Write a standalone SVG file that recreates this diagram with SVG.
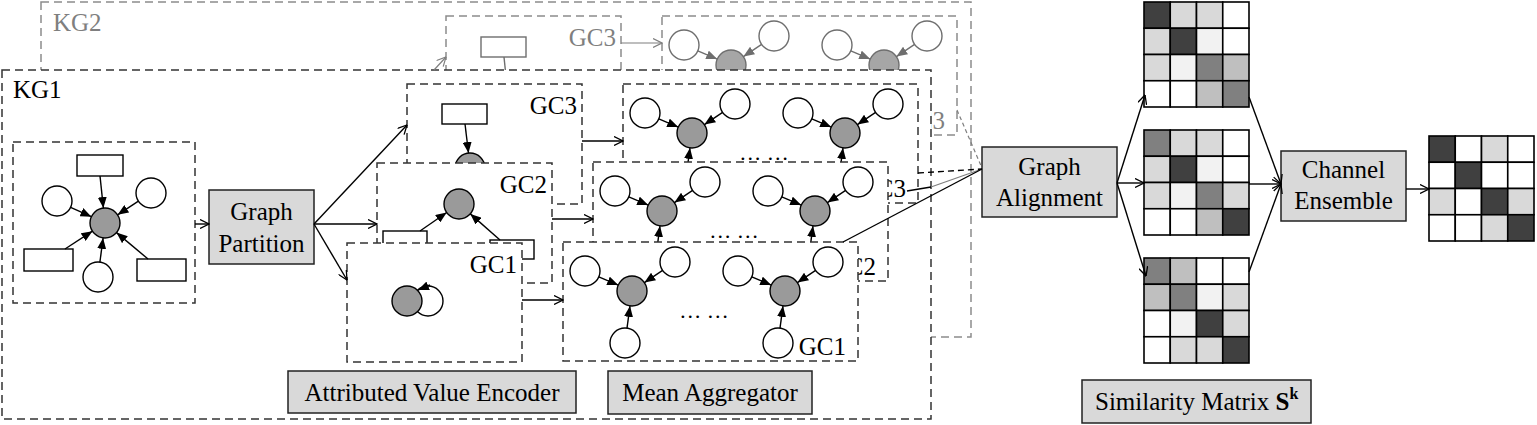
<svg xmlns="http://www.w3.org/2000/svg" xmlns:xlink="http://www.w3.org/1999/xlink" width="1537" height="425" viewBox="0 0 1537 425">
<style>
text{font-family:"Liberation Serif","Times New Roman",serif;font-size:25px;fill:#000}
.g text,text.g{fill:#7f7f7f}
.dash{fill:#fff;stroke:#333;stroke-width:1.5;stroke-dasharray:8 5}
.dashG{fill:#fff;stroke:#8c8c8c;stroke-width:1.5;stroke-dasharray:8 5}
.wc{fill:#fff;stroke:#000;stroke-width:1.4}
.gc{fill:#9a9a9a;stroke:#000;stroke-width:1.4}
.wcG{fill:#fff;stroke:#6e6e6e;stroke-width:1.4}
.gcG{fill:#a6a6a6;stroke:#6e6e6e;stroke-width:1.4}
.rb{fill:#fff;stroke:#000;stroke-width:1.4}
.rbG{fill:#fff;stroke:#6e6e6e;stroke-width:1.4}
.ar{stroke:#000;stroke-width:1.4;fill:none;marker-end:url(#tri)}
.arG{stroke:#6e6e6e;stroke-width:1.4;fill:none;marker-end:url(#triG)}
.box{fill:#d9d9d9;stroke:#222;stroke-width:1.5}
.cn{stroke:#000;stroke-width:1.4;fill:none}
.cnv{stroke:#000;stroke-width:1.4;fill:none;marker-end:url(#vee)}
.cnG{stroke:#7f7f7f;stroke-width:1.2;fill:none}
.cnGv{stroke:#7f7f7f;stroke-width:1.2;fill:none;marker-end:url(#veeG)}
.mx rect{stroke:#000;stroke-width:1.6}
.c0{fill:#fff}.c1{fill:#f2f2f2}.c2{fill:#d9d9d9}.c3{fill:#bfbfbf}.c4{fill:#808080}.c5{fill:#404040}
.dots{font-size:22px}
</style>
<defs>
<marker id="tri" viewBox="0 0 11 9" refX="11" refY="4.5" markerWidth="11" markerHeight="9" markerUnits="userSpaceOnUse" orient="auto"><path d="M0,0L11,4.5L0,9z" fill="#000"/></marker>
<marker id="triG" viewBox="0 0 11 9" refX="11" refY="4.5" markerWidth="11" markerHeight="9" markerUnits="userSpaceOnUse" orient="auto"><path d="M0,0L11,4.5L0,9z" fill="#6e6e6e"/></marker>
<marker id="vee" viewBox="0 0 10 10" refX="9.5" refY="5" markerWidth="10" markerHeight="10" markerUnits="userSpaceOnUse" orient="auto"><path d="M0.5,0.5L9.5,5L0.5,9.5" fill="none" stroke="#000" stroke-width="1.3"/></marker>
<marker id="veeG" viewBox="0 0 10 10" refX="9.5" refY="5" markerWidth="10" markerHeight="10" markerUnits="userSpaceOnUse" orient="auto"><path d="M0.5,0.5L9.5,5L0.5,9.5" fill="none" stroke="#7f7f7f" stroke-width="1.2"/></marker>
<g id="aggK1">
<rect x="0" y="0" width="295" height="119" class="dash"/>
<circle cx="22" cy="29" r="15" class="wc"/><circle cx="112" cy="20" r="15" class="wc"/><circle cx="62" cy="101" r="15" class="wc"/><circle cx="69" cy="49" r="15" class="gc"/>
<line x1="35.8" y1="34.9" x2="55.2" y2="43.1" class="ar"/><line x1="99.6" y1="28.4" x2="81.4" y2="40.6" class="ar"/><line x1="64" y1="86.1" x2="67" y2="63.9" class="ar"/>
<circle cx="175" cy="29" r="15" class="wc"/><circle cx="265" cy="20" r="15" class="wc"/><circle cx="215" cy="101" r="15" class="wc"/><circle cx="222" cy="49" r="15" class="gc"/>
<line x1="188.8" y1="34.9" x2="208.2" y2="43.1" class="ar"/><line x1="252.6" y1="28.4" x2="234.4" y2="40.6" class="ar"/><line x1="217" y1="86.1" x2="220" y2="63.9" class="ar"/>
<text x="141" y="76" class="dots" text-anchor="middle">… …</text>
</g>
<g id="aggK2">
<rect x="0" y="0" width="295" height="119" class="dashG"/>
<circle cx="22" cy="29" r="15" class="wcG"/><circle cx="112" cy="20" r="15" class="wcG"/><circle cx="62" cy="101" r="15" class="wcG"/><circle cx="69" cy="49" r="15" class="gcG"/>
<line x1="35.8" y1="34.9" x2="55.2" y2="43.1" class="arG"/><line x1="99.6" y1="28.4" x2="81.4" y2="40.6" class="arG"/><line x1="64" y1="86.1" x2="67" y2="63.9" class="arG"/>
<circle cx="175" cy="29" r="15" class="wcG"/><circle cx="265" cy="20" r="15" class="wcG"/><circle cx="215" cy="101" r="15" class="wcG"/><circle cx="222" cy="49" r="15" class="gcG"/>
<line x1="188.8" y1="34.9" x2="208.2" y2="43.1" class="arG"/><line x1="252.6" y1="28.4" x2="234.4" y2="40.6" class="arG"/><line x1="217" y1="86.1" x2="220" y2="63.9" class="arG"/>
</g>
</defs>

<g id="kg2" class="g">
<rect x="41" y="2" width="930" height="335" class="dashG"/>
<text x="53" y="31">KG2</text>
<g id="kg2-gc3">
<rect x="446" y="16" width="175" height="120" class="dashG"/>
<rect x="481" y="37" width="45" height="20" class="rbG"/>
<line x1="504" y1="57" x2="507" y2="86" class="arG"/>
<circle cx="509" cy="100" r="15" class="gcG"/>
<text x="616" y="46" text-anchor="end">GC3</text>
</g>
<g id="kg2-agg3">
<use xlink:href="#aggK2" href="#aggK2" transform="translate(662,16)"/>
<text x="945" y="129" text-anchor="end">GC3</text>
</g>
</g>

<g id="kg1">
<rect x="2" y="70" width="929" height="349" class="dash"/>
<text x="13" y="98">KG1</text>
</g>

<g id="input-graph">
<rect x="13" y="142" width="182" height="161" class="dash"/>
<rect x="77" y="155" width="46" height="21" class="rb"/>
<circle cx="57" cy="201" r="15" class="wc"/>
<circle cx="151" cy="193" r="15" class="wc"/>
<rect x="24" y="249" width="49" height="22" class="rb"/>
<circle cx="98" cy="277" r="15" class="wc"/>
<rect x="137" y="259" width="49" height="22" class="rb"/>
<circle cx="105" cy="223" r="15" class="gc"/>
<line x1="100" y1="176" x2="103.4" y2="208.1" class="ar"/>
<line x1="70.6" y1="207.3" x2="91.4" y2="216.7" class="ar"/>
<line x1="138.4" y1="201.2" x2="117.6" y2="214.8" class="ar"/>
<line x1="65" y1="249" x2="92.4" y2="231.2" class="ar"/>
<line x1="99.9" y1="262.1" x2="103.1" y2="237.9" class="ar"/>
<line x1="148" y1="259" x2="116.5" y2="232.6" class="ar"/>
</g>

<g id="graph-partition">
<rect x="209" y="190" width="105" height="74" class="box"/>
<text x="261.5" y="220" text-anchor="middle">Graph</text>
<text x="261.5" y="252" text-anchor="middle">Partition</text>
</g>

<g id="gc3">
<rect x="407" y="84" width="175" height="120" class="dash"/>
<rect x="442" y="104" width="45" height="20" class="rb"/>
<circle cx="470" cy="168" r="15" class="gc"/>
<line x1="465" y1="124" x2="468.5" y2="153" class="ar"/>
<text x="577" y="114" text-anchor="end">GC3</text>
</g>
<g id="gc2">
<rect x="377" y="163" width="175" height="120" class="dash"/>
<rect x="383" y="231" width="44" height="20" class="rb"/>
<rect x="490" y="240" width="44" height="19" class="rb"/>
<circle cx="459" cy="204" r="15" class="gc"/>
<line x1="420" y1="231" x2="446.7" y2="212.5" class="ar"/>
<line x1="500" y1="240" x2="470.3" y2="213.9" class="ar"/>
<text x="547" y="193" text-anchor="end">GC2</text>
</g>
<g id="gc1">
<rect x="347" y="243" width="175" height="119" class="dash"/>
<circle cx="428" cy="301" r="15" class="wc"/>
<circle cx="407" cy="301" r="15" class="gc"/>
<path d="M430,285 L418,290" class="ar"/>
<text x="517" y="273" text-anchor="end">GC1</text>
</g>

<g id="agg3">
<use xlink:href="#aggK1" href="#aggK1" transform="translate(623,84)"/>
<text x="906" y="197" text-anchor="end">GC3</text>
</g>
<g id="agg2">
<use xlink:href="#aggK1" href="#aggK1" transform="translate(593,162)"/>
<text x="876" y="275" text-anchor="end">GC2</text>
</g>
<g id="agg1">
<use xlink:href="#aggK1" href="#aggK1" transform="translate(563,242)"/>
<text x="846" y="355" text-anchor="end">GC1</text>
</g>

<g id="attr-encoder">
<rect x="288" y="371" width="288" height="42" class="box"/>
<text x="432" y="401" text-anchor="middle">Attributed Value Encoder</text>
</g>
<g id="mean-aggregator">
<rect x="608" y="371" width="204" height="43" class="box"/>
<text x="710" y="401" text-anchor="middle">Mean Aggregator</text>
</g>

<g id="graph-alignment">
<rect x="982" y="147" width="135" height="70" class="box"/>
<text x="1049.5" y="175" text-anchor="middle">Graph</text>
<text x="1049.5" y="206" text-anchor="middle">Alignment</text>
</g>

<g id="matrix1" class="mx" transform="translate(1144,2)">
<rect x="0" y="0" width="26.25" height="26.25" class="c5"/><rect x="26.25" y="0" width="26.25" height="26.25" class="c2"/><rect x="52.5" y="0" width="26.25" height="26.25" class="c2"/><rect x="78.75" y="0" width="26.25" height="26.25" class="c0"/>
<rect x="0" y="26.25" width="26.25" height="26.25" class="c2"/><rect x="26.25" y="26.25" width="26.25" height="26.25" class="c5"/><rect x="52.5" y="26.25" width="26.25" height="26.25" class="c1"/><rect x="78.75" y="26.25" width="26.25" height="26.25" class="c0"/>
<rect x="0" y="52.5" width="26.25" height="26.25" class="c2"/><rect x="26.25" y="52.5" width="26.25" height="26.25" class="c1"/><rect x="52.5" y="52.5" width="26.25" height="26.25" class="c4"/><rect x="78.75" y="52.5" width="26.25" height="26.25" class="c3"/>
<rect x="0" y="78.75" width="26.25" height="26.25" class="c0"/><rect x="26.25" y="78.75" width="26.25" height="26.25" class="c0"/><rect x="52.5" y="78.75" width="26.25" height="26.25" class="c3"/><rect x="78.75" y="78.75" width="26.25" height="26.25" class="c4"/>
</g>
<g id="matrix2" class="mx" transform="translate(1144,130)">
<rect x="0" y="0" width="26.25" height="26.25" class="c4"/><rect x="26.25" y="0" width="26.25" height="26.25" class="c2"/><rect x="52.5" y="0" width="26.25" height="26.25" class="c2"/><rect x="78.75" y="0" width="26.25" height="26.25" class="c0"/>
<rect x="0" y="26.25" width="26.25" height="26.25" class="c2"/><rect x="26.25" y="26.25" width="26.25" height="26.25" class="c5"/><rect x="52.5" y="26.25" width="26.25" height="26.25" class="c1"/><rect x="78.75" y="26.25" width="26.25" height="26.25" class="c0"/>
<rect x="0" y="52.5" width="26.25" height="26.25" class="c2"/><rect x="26.25" y="52.5" width="26.25" height="26.25" class="c1"/><rect x="52.5" y="52.5" width="26.25" height="26.25" class="c4"/><rect x="78.75" y="52.5" width="26.25" height="26.25" class="c2"/>
<rect x="0" y="78.75" width="26.25" height="26.25" class="c0"/><rect x="26.25" y="78.75" width="26.25" height="26.25" class="c0"/><rect x="52.5" y="78.75" width="26.25" height="26.25" class="c3"/><rect x="78.75" y="78.75" width="26.25" height="26.25" class="c5"/>
</g>
<g id="matrix3" class="mx" transform="translate(1144,258)">
<rect x="0" y="0" width="26.25" height="26.25" class="c4"/><rect x="26.25" y="0" width="26.25" height="26.25" class="c3"/><rect x="52.5" y="0" width="26.25" height="26.25" class="c0"/><rect x="78.75" y="0" width="26.25" height="26.25" class="c0"/>
<rect x="0" y="26.25" width="26.25" height="26.25" class="c3"/><rect x="26.25" y="26.25" width="26.25" height="26.25" class="c4"/><rect x="52.5" y="26.25" width="26.25" height="26.25" class="c1"/><rect x="78.75" y="26.25" width="26.25" height="26.25" class="c2"/>
<rect x="0" y="52.5" width="26.25" height="26.25" class="c0"/><rect x="26.25" y="52.5" width="26.25" height="26.25" class="c1"/><rect x="52.5" y="52.5" width="26.25" height="26.25" class="c5"/><rect x="78.75" y="52.5" width="26.25" height="26.25" class="c2"/>
<rect x="0" y="78.75" width="26.25" height="26.25" class="c0"/><rect x="26.25" y="78.75" width="26.25" height="26.25" class="c2"/><rect x="52.5" y="78.75" width="26.25" height="26.25" class="c2"/><rect x="78.75" y="78.75" width="26.25" height="26.25" class="c5"/>
</g>

<g id="similarity-label">
<rect x="1082" y="380" width="229" height="43" class="box"/>
<text x="1095" y="410">Similarity Matrix <tspan font-weight="bold">S</tspan><tspan font-weight="bold" font-size="16" dy="-11">k</tspan></text>
</g>

<g id="channel-ensemble">
<rect x="1281" y="151" width="125" height="70" class="box"/>
<text x="1343.5" y="178" text-anchor="middle">Channel</text>
<text x="1343.5" y="209" text-anchor="middle">Ensemble</text>
</g>

<g id="matrix-final" class="mx" transform="translate(1429,136)">
<rect x="0" y="0" width="26.25" height="26.25" class="c5"/><rect x="26.25" y="0" width="26.25" height="26.25" class="c0"/><rect x="52.5" y="0" width="26.25" height="26.25" class="c2"/><rect x="78.75" y="0" width="26.25" height="26.25" class="c0"/>
<rect x="0" y="26.25" width="26.25" height="26.25" class="c0"/><rect x="26.25" y="26.25" width="26.25" height="26.25" class="c5"/><rect x="52.5" y="26.25" width="26.25" height="26.25" class="c0"/><rect x="78.75" y="26.25" width="26.25" height="26.25" class="c0"/>
<rect x="0" y="52.5" width="26.25" height="26.25" class="c2"/><rect x="26.25" y="52.5" width="26.25" height="26.25" class="c0"/><rect x="52.5" y="52.5" width="26.25" height="26.25" class="c5"/><rect x="78.75" y="52.5" width="26.25" height="26.25" class="c2"/>
<rect x="0" y="78.75" width="26.25" height="26.25" class="c0"/><rect x="26.25" y="78.75" width="26.25" height="26.25" class="c0"/><rect x="52.5" y="78.75" width="26.25" height="26.25" class="c2"/><rect x="78.75" y="78.75" width="26.25" height="26.25" class="c5"/>
</g>

<g id="connectors">
<line x1="434" y1="70" x2="446" y2="57" class="cnGv"/>
<line x1="621" y1="43" x2="662" y2="43" class="cnGv"/>
<line x1="957" y1="110" x2="982" y2="168" class="cnG" stroke-dasharray="4 3"/>
<line x1="931" y1="187" x2="982" y2="169" class="cnG"/>
<line x1="918" y1="173" x2="982" y2="169" class="cn" stroke-dasharray="6 4"/>
<line x1="907" y1="191" x2="931" y2="187" class="cn"/>
<line x1="843" y1="242" x2="982" y2="169" class="cn"/>
<line x1="195" y1="224" x2="209" y2="224" class="cnv"/>
<line x1="314" y1="224" x2="407" y2="125" class="cnv"/>
<line x1="314" y1="224" x2="377" y2="224" class="cnv"/>
<line x1="314" y1="224" x2="347" y2="280" class="cnv"/>
<line x1="582" y1="141" x2="623" y2="141" class="cnv"/>
<line x1="552" y1="219" x2="593" y2="219" class="cnv"/>
<line x1="522" y1="300" x2="563" y2="300" class="cnv"/>
<line x1="1117" y1="183" x2="1145" y2="95" class="cnv"/>
<line x1="1117" y1="183" x2="1144" y2="183" class="cnv"/>
<line x1="1117" y1="183" x2="1146" y2="276" class="cnv"/>
<line x1="1249" y1="97" x2="1281" y2="184" class="cnv"/>
<line x1="1249" y1="184" x2="1281" y2="184" class="cnv"/>
<line x1="1249" y1="272" x2="1281" y2="184" class="cnv"/>
<line x1="1406" y1="189" x2="1429" y2="189" class="cnv"/>
</g>
</svg>
